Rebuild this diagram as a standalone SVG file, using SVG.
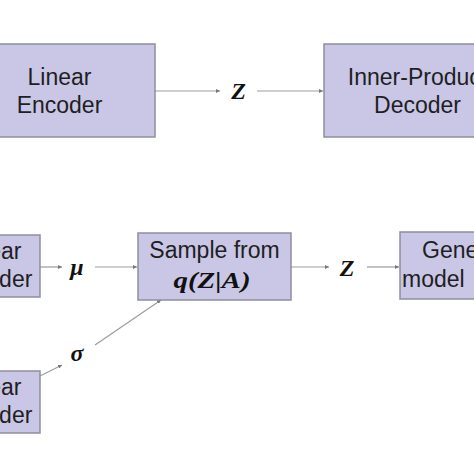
<svg xmlns="http://www.w3.org/2000/svg" width="474" height="474" viewBox="0 0 474 474">
<style>
.box{fill:#c9c7e5;stroke:#8e8e9c;stroke-width:1.5}
.t{font-family:"Liberation Sans",Arial,sans-serif;font-size:23px;fill:#1e1e24}
.m{font-family:"Liberation Serif","DejaVu Serif",serif;font-weight:bold;font-style:italic;font-size:24px;fill:#111}
.c{stroke:#9c9c9c;stroke-width:1.2;fill:none;marker-end:url(#ah)}
</style>
<defs>
<marker id="ah" viewBox="0 0 6 6" refX="6" refY="3" markerWidth="4" markerHeight="4" markerUnits="userSpaceOnUse" orient="auto">
<path d="M0,0 L6,3 L0,6 z" fill="#777"/>
</marker>
</defs>
<rect width="474" height="474" fill="#fff"/>
<g id="connectors">
<line class="c" x1="155" y1="91" x2="220" y2="91"/>
<line class="c" x1="257" y1="91" x2="323" y2="91"/>
<line class="c" x1="40" y1="267" x2="62" y2="267"/>
<line class="c" x1="95" y1="267" x2="137" y2="267"/>
<line class="c" x1="291" y1="267" x2="329" y2="267"/>
<line class="c" x1="367" y1="267" x2="399" y2="267"/>
<line class="c" x1="40" y1="376" x2="62" y2="365"/>
<line class="c" x1="95" y1="345" x2="161" y2="300"/>
<text class="m" x="238.5" y="99" text-anchor="middle">Z</text>
<text class="m" x="77" y="275" text-anchor="middle">μ</text>
<text class="m" x="347" y="276" text-anchor="middle">Z</text>
<text class="m" x="77" y="361" text-anchor="middle">σ</text>
</g>
<g id="linear-encoder-top">
<rect class="box" x="-36" y="44" width="191" height="93"/>
<text class="t" x="59.5" y="85" text-anchor="middle">Linear</text>
<text class="t" x="59.5" y="113" text-anchor="middle">Encoder</text>
</g>
<g id="inner-product-decoder">
<rect class="box" x="324" y="44" width="190" height="93"/>
<text class="t" x="417.5" y="85" text-anchor="middle">Inner-Product</text>
<text class="t" x="417.5" y="113" text-anchor="middle">Decoder</text>
</g>
<g id="linear-encoder-mu">
<rect class="box" x="-61" y="235" width="101" height="62"/>
<text class="t" x="-10.5" y="259" text-anchor="middle">Linear</text>
<text class="t" x="-10.5" y="287" text-anchor="middle">Encoder</text>
</g>
<g id="linear-encoder-sigma">
<rect class="box" x="-61" y="371" width="101" height="62"/>
<text class="t" x="-10.5" y="395" text-anchor="middle">Linear</text>
<text class="t" x="-10.5" y="423" text-anchor="middle">Encoder</text>
</g>
<g id="sample">
<rect class="box" x="138" y="233" width="153" height="67"/>
<text class="t" x="214.5" y="258" text-anchor="middle">Sample from</text>
<text class="m" x="212" y="288" text-anchor="middle" textLength="77" lengthAdjust="spacingAndGlyphs">q(Z|A)</text>
</g>
<g id="generative-model">
<rect class="box" x="400" y="232" width="150" height="67"/>
<text class="t" x="422" y="258">Generative</text>
<text class="t" x="402" y="287">model</text>
</g>
</svg>
